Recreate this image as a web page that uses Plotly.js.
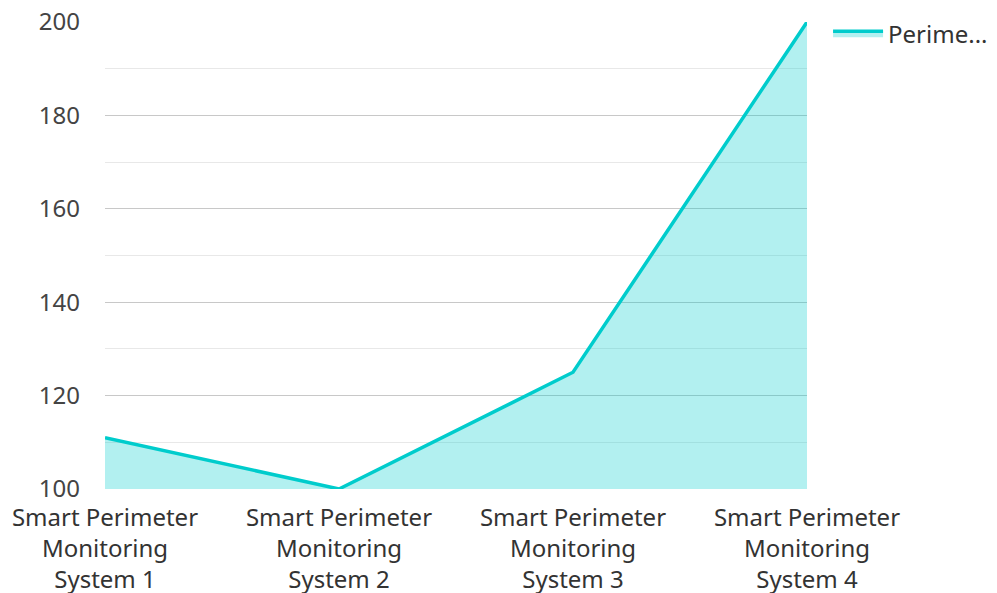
<!DOCTYPE html>
<html>
<head>
<meta charset="utf-8">
<script src="https://cdn.plot.ly/plotly-3.0.1.min.js"></script>
<style>html,body{margin:0;padding:0;background:#fff;}#chart{width:997px;height:593px;}</style>
</head>
<body>
<div id="chart"></div>
<script>
const categories = ["Smart Perimeter<br>Monitoring<br>System 1", "Smart Perimeter<br>Monitoring<br>System 2", "Smart Perimeter<br>Monitoring<br>System 3", "Smart Perimeter<br>Monitoring<br>System 4"];
const values = [111, 100, 125, 200];
const seriesName = "Perime...";
const yTicks = [100, 120, 140, 160, 180, 200];

const trace = {
  type: 'scatter',
  mode: 'lines',
  x: categories,
  y: values,
  name: seriesName,
  line: {color: '#00cccc', width: 3.5},
  fill: 'tozeroy',
  fillcolor: 'rgba(0,204,204,0.3)'
};

const layout = {
  width: 997, height: 593,
  margin: {l: 105, r: 190, t: 22, b: 104, autoexpand: false},
  paper_bgcolor: '#fff', plot_bgcolor: '#fff',
  font: {family: 'Noto Sans, sans-serif', size: 24, color: '#333'},
  showlegend: true,
  legend: {x: 1.03, xanchor: 'left', y: 1.023, yanchor: 'top', itemwidth: 50, font: {size: 24, color: '#333'}},
  xaxis: {
    showgrid: false, zeroline: false, showline: false, automargin: false,
    range: [0, 3], ticks: '', ticklabelstandoff: 12, tickfont: {size: 24, color: '#333'}
  },
  yaxis: {
    range: [100, 200], tickvals: yTicks, showgrid: true, gridcolor: '#c8c8c8', gridwidth: 1,
    zeroline: false, showline: false, ticks: '', ticklabelstandoff: 24, automargin: false,
    tickfont: {size: 24, color: '#444'},
    minor: {dtick: 10, showgrid: true, gridcolor: '#e8e8e8', gridwidth: 1}
  }
};

Plotly.newPlot('chart', [trace], layout, {displayModeBar: false});
</script>
</body>
</html>
